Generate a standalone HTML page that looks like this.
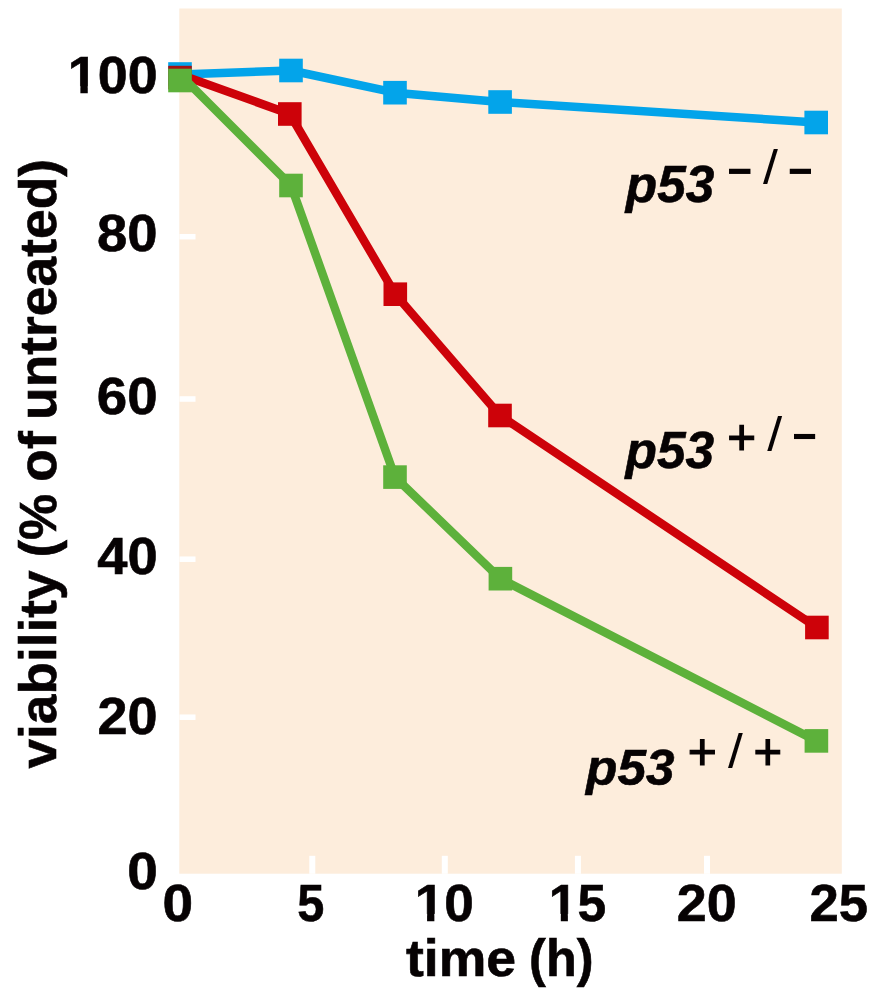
<!DOCTYPE html>
<html>
<head>
<meta charset="utf-8">
<title>p53 viability</title>
<style>
html,body{margin:0;padding:0;background:#fff;}
body{width:879px;height:1000px;overflow:hidden;}
svg{display:block;}
text{font-family:"Liberation Sans",sans-serif;fill:#060203;}
</style>
</head>
<body>
<svg width="879" height="1000" viewBox="0 0 879 1000">
<rect x="0" y="0" width="879" height="1000" fill="#ffffff"/>
<rect x="179.3" y="8.5" width="662.5" height="865.2" fill="#fdeddc"/>
<g fill="#ffffff">
<rect x="179.5" y="233.95" width="16" height="5.5"/>
<rect x="179.5" y="396.25" width="16" height="5.5"/>
<rect x="179.5" y="556.45" width="16" height="5.5"/>
<rect x="179.5" y="714.45" width="16" height="5.5"/>
<rect x="309.30" y="855.8" width="6" height="18"/>
<rect x="441.80" y="855.8" width="6" height="18"/>
<rect x="574.90" y="855.8" width="6" height="18"/>
<rect x="704.00" y="855.8" width="6" height="18"/>
</g>
<polyline points="180,74.5 291,70.5 395,92.7 500.1,102 816.2,122.5" fill="none" stroke="#03a4ea" stroke-width="8.5" stroke-linejoin="round"/>
<rect x="168.20" y="62.20" width="23.6" height="23.6" fill="#03a4ea"/>
<rect x="279.20" y="58.70" width="23.6" height="23.6" fill="#03a4ea"/>
<rect x="383.20" y="80.90" width="23.6" height="23.6" fill="#03a4ea"/>
<rect x="488.30" y="90.20" width="23.6" height="23.6" fill="#03a4ea"/>
<rect x="804.40" y="110.70" width="23.6" height="23.6" fill="#03a4ea"/>
<polyline points="180,74.5 289.8,114 395.3,294.2 500,415.5 816.9,627.5" fill="none" stroke="#cd0209" stroke-width="8.5" stroke-linejoin="round"/>
<rect x="168.20" y="65.80" width="23.6" height="23.6" fill="#a51212"/>
<rect x="278.00" y="102.20" width="23.6" height="23.6" fill="#cd0209"/>
<rect x="383.50" y="282.40" width="23.6" height="23.6" fill="#cd0209"/>
<rect x="488.20" y="403.70" width="23.6" height="23.6" fill="#cd0209"/>
<rect x="805.10" y="615.70" width="23.6" height="23.6" fill="#cd0209"/>
<polyline points="180,74.5 291,185.5 395,477.1 500.4,578.7 816.4,740.9" fill="none" stroke="#5db13b" stroke-width="8.5" stroke-linejoin="round"/>
<rect x="168.20" y="68.70" width="23.6" height="23.6" fill="#5db13b"/>
<rect x="279.20" y="173.70" width="23.6" height="23.6" fill="#5db13b"/>
<rect x="383.20" y="465.30" width="23.6" height="23.6" fill="#5db13b"/>
<rect x="488.60" y="566.90" width="23.6" height="23.6" fill="#5db13b"/>
<rect x="804.60" y="729.10" width="23.6" height="23.6" fill="#5db13b"/>

<text transform="translate(67.84,92.90) scale(1.0542,1.0000)" font-size="51.0" font-weight="bold" stroke="#060203" stroke-width="0.6">100</text>
<text transform="translate(97.07,250.70) scale(1.0679,1.0000)" font-size="51.0" font-weight="bold" stroke="#060203" stroke-width="0.6">80</text>
<text transform="translate(96.79,414.40) scale(1.0729,1.0000)" font-size="51.0" font-weight="bold" stroke="#060203" stroke-width="0.6">60</text>
<text transform="translate(97.17,573.90) scale(1.0661,1.0000)" font-size="51.0" font-weight="bold" stroke="#060203" stroke-width="0.6">40</text>
<text transform="translate(97.51,734.10) scale(1.0598,1.0000)" font-size="51.0" font-weight="bold" stroke="#060203" stroke-width="0.6">20</text>
<text transform="translate(127.21,889.00) scale(1.0788,1.0000)" font-size="51.0" font-weight="bold" stroke="#060203" stroke-width="0.6">0</text>
<text transform="translate(162.51,920.50) scale(1.0788,1.0000)" font-size="51.0" font-weight="bold" stroke="#060203" stroke-width="0.6">0</text>
<text transform="translate(297.31,920.50) scale(0.9538,1.0000)" font-size="51.0" font-weight="bold" stroke="#060203" stroke-width="0.6">5</text>
<text transform="translate(414.67,920.60) scale(1.0423,1.0000)" font-size="51.0" font-weight="bold" stroke="#060203" stroke-width="0.6">10</text>
<text transform="translate(548.77,920.60) scale(1.0114,1.0000)" font-size="51.0" font-weight="bold" stroke="#060203" stroke-width="0.6">15</text>
<text transform="translate(676.82,920.50) scale(1.0561,1.0000)" font-size="51.0" font-weight="bold" stroke="#060203" stroke-width="0.6">20</text>
<text transform="translate(809.45,920.50) scale(1.0315,1.0000)" font-size="51.0" font-weight="bold" stroke="#060203" stroke-width="0.6">25</text>
<text transform="translate(405.94,975.80) scale(1.0299,1.0000)" font-size="52" font-weight="bold" stroke="#060203" stroke-width="0.6">time</text>
<text transform="translate(529.12,975.80) scale(0.9700,1.0000)" font-size="52" font-weight="bold" stroke="#060203" stroke-width="0.6">(h)</text>
<text transform="translate(625.81,201.93) scale(1.0067,1.0203)" font-size="51" font-weight="bold" font-style="italic" stroke="#060203" stroke-width="0.6">p53</text>
<text transform="translate(625.52,468.29) scale(1.0101,1.0053)" font-size="51" font-weight="bold" font-style="italic" stroke="#060203" stroke-width="0.6">p53</text>
<text transform="translate(586.11,785.01) scale(1.0067,0.9947)" font-size="51" font-weight="bold" font-style="italic" stroke="#060203" stroke-width="0.6">p53</text>
<text transform="translate(727.19,186.53) scale(0.8554,0.9524)" font-size="50" font-weight="bold">−</text>
<text transform="translate(763.00,184.40) scale(1.1170,0.9986)" font-size="48" font-weight="normal">/</text>
<text transform="translate(787.90,186.53) scale(0.8475,0.9524)" font-size="50" font-weight="bold">−</text>
<text transform="translate(727.17,453.60) scale(0.9882,1.0136)" font-size="50" font-weight="normal" stroke="#060203" stroke-width="1.2" stroke-linejoin="miter">+</text>
<text transform="translate(767.20,451.00) scale(1.1170,1.0099)" font-size="48" font-weight="normal">/</text>
<text transform="translate(792.31,452.47) scale(0.8436,0.9333)" font-size="50" font-weight="bold">−</text>
<text transform="translate(687.66,770.13) scale(0.9961,1.0214)" font-size="50" font-weight="normal" stroke="#060203" stroke-width="1.2" stroke-linejoin="miter">+</text>
<text transform="translate(727.90,767.99) scale(1.1094,1.0128)" font-size="48" font-weight="normal">/</text>
<text transform="translate(753.38,770.13) scale(0.9804,1.0214)" font-size="50" font-weight="normal" stroke="#060203" stroke-width="1.2" stroke-linejoin="miter">+</text>
<text transform="translate(56.00,768.54) rotate(-90) scale(1.0232,1)" font-size="52" font-weight="bold" stroke="#060203" stroke-width="0.6">viability</text>
<text transform="translate(56.00,557.34) rotate(-90) scale(0.9975,1)" font-size="52" font-weight="bold" stroke="#060203" stroke-width="0.6">(%</text>
<text transform="translate(56.00,481.70) rotate(-90) scale(1.0283,1)" font-size="52" font-weight="bold" stroke="#060203" stroke-width="0.6">of</text>
<text transform="translate(56.00,419.88) rotate(-90) scale(1.0265,1)" font-size="52" font-weight="bold" stroke="#060203" stroke-width="0.6">untreated)</text>
<g fill="#ffffff">
<rect x="69.72" y="86.20" width="10.66" height="8.20"/>
<rect x="87.76" y="86.20" width="9.98" height="8.20"/>
<rect x="416.52" y="913.90" width="10.56" height="8.20"/>
<rect x="434.37" y="913.90" width="9.88" height="8.20"/>
<rect x="550.51" y="913.90" width="10.29" height="8.20"/>
<rect x="567.88" y="913.90" width="9.64" height="8.20"/>
</g>
</svg>
</body>
</html>
